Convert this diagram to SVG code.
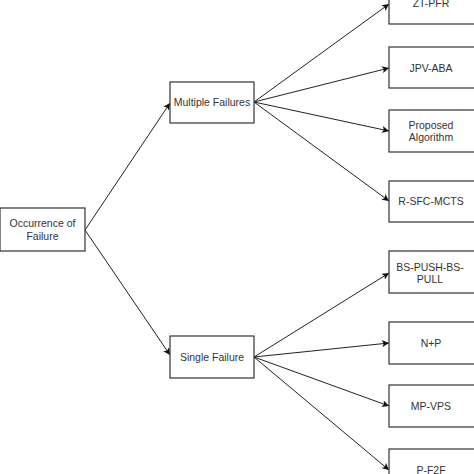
<svg xmlns="http://www.w3.org/2000/svg" width="474" height="474" viewBox="0 0 474 474">
<defs>
<marker id="ah" viewBox="0 0 10 10" refX="10" refY="5" markerWidth="7" markerHeight="7" markerUnits="userSpaceOnUse" orient="auto">
<path d="M0,0 L10,5 L0,10 L2.5,5 z" fill="#111"/>
</marker>
<style>
.box{fill:#fff;stroke:#333;stroke-width:1.2}
.t{font-family:"Liberation Sans",Arial,sans-serif;font-size:10.5px;fill:#333;text-anchor:middle}
.e{stroke:#222;stroke-width:1;fill:none;marker-end:url(#ah)}
</style>
</defs>
<rect width="474" height="474" fill="#fff"/>
<g id="connectors">
<line class="e" x1="85" y1="230" x2="170" y2="103"/>
<line class="e" x1="85" y1="230" x2="170" y2="355"/>
<line class="e" x1="254" y1="102" x2="389" y2="4"/>
<line class="e" x1="254" y1="102" x2="389" y2="68"/>
<line class="e" x1="254" y1="102" x2="389" y2="131"/>
<line class="e" x1="254" y1="102" x2="389" y2="201"/>
<line class="e" x1="254" y1="357" x2="389" y2="273"/>
<line class="e" x1="254" y1="357" x2="389" y2="343"/>
<line class="e" x1="254" y1="357" x2="389" y2="406"/>
<line class="e" x1="254" y1="357" x2="389" y2="470"/>
</g>
<g id="occurrence"><rect class="box" x="0" y="208" width="85" height="43"/><text class="t" x="42.5" y="227">Occurrence of</text><text class="t" x="42.5" y="240">Failure</text></g>
<g id="multiple"><rect class="box" x="170" y="82" width="84" height="41"/><text class="t" x="212" y="106">Multiple Failures</text></g>
<g id="single"><rect class="box" x="170" y="336" width="84" height="42"/><text class="t" x="212" y="361">Single Failure</text></g>
<g id="ztpfr"><rect class="box" x="389" y="-18" width="90" height="42"/><text class="t" x="431" y="7">ZT-PFR</text></g>
<g id="jpvaba"><rect class="box" x="389" y="47" width="90" height="41"/><text class="t" x="431" y="71.5">JPV-ABA</text></g>
<g id="proposed"><rect class="box" x="389" y="110" width="90" height="42"/><text class="t" x="431" y="129">Proposed</text><text class="t" x="431" y="141">Algorithm</text></g>
<g id="rsfc"><rect class="box" x="389" y="181" width="90" height="41"/><text class="t" x="431" y="205">R-SFC-MCTS</text></g>
<g id="bspush"><rect class="box" x="389" y="251" width="90" height="42"/><text class="t" x="430" y="271">BS-PUSH-BS-</text><text class="t" x="430" y="283">PULL</text></g>
<g id="np"><rect class="box" x="389" y="322" width="90" height="42"/><text class="t" x="431" y="347">N+P</text></g>
<g id="mpvps"><rect class="box" x="389" y="385" width="90" height="42"/><text class="t" x="431" y="410">MP-VPS</text></g>
<g id="pf2f"><rect class="box" x="389" y="449" width="90" height="42"/><text class="t" x="431" y="474">P-F2F</text></g>
</svg>
